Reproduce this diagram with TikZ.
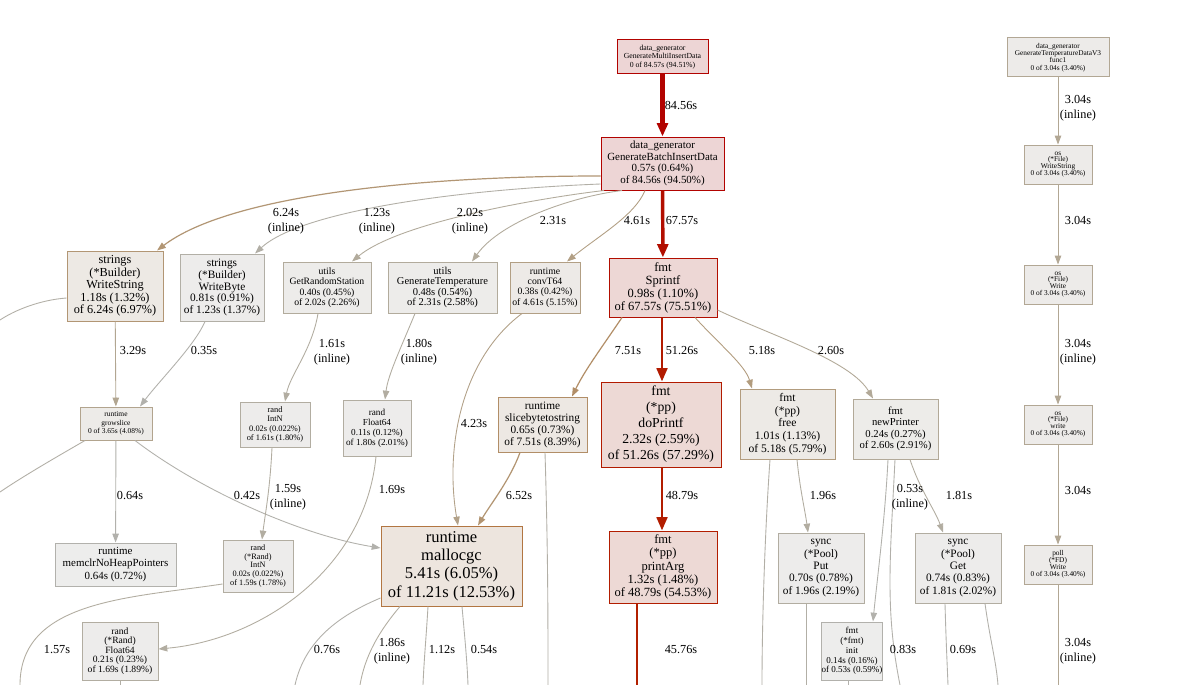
\documentclass[tikz,border=0pt]{standalone}
\usepackage{fontspec}
\setmainfont{Liberation Serif}
\usetikzlibrary{arrows.meta}
% node borders / fills
\definecolor{bA}{HTML}{B20300}\definecolor{fA}{HTML}{EDD5D5}
\definecolor{bB}{HTML}{B20E00}\definecolor{fB}{HTML}{EDD7D5}
\definecolor{bC}{HTML}{B21B00}\definecolor{fC}{HTML}{EDD9D5}
\definecolor{bD}{HTML}{B21D00}
\definecolor{bMal}{HTML}{B27642}\definecolor{fMal}{HTML}{EDE5DE}
\definecolor{bSbs}{HTML}{B28E67}\definecolor{fSbs}{HTML}{EDE8E3}
\definecolor{bSws}{HTML}{B29674}\definecolor{fSws}{HTML}{EDE9E4}
\definecolor{bFr}{HTML}{B29C7E}\definecolor{fFr}{HTML}{EDEAE6}
\definecolor{bCv}{HTML}{B29F84}\definecolor{fCv}{HTML}{EDEAE7}
\definecolor{bGs}{HTML}{B2A48E}\definecolor{fGs}{HTML}{EDEBE8}
\definecolor{bOs}{HTML}{B2A794}\definecolor{fOs}{HTML}{EDEBE9}
\definecolor{bNp}{HTML}{B2A998}\definecolor{fNp}{HTML}{EDECE9}
\definecolor{bUt}{HTML}{B2AB9C}\definecolor{fUt}{HTML}{EDECEA}
\definecolor{bSy}{HTML}{B2ADA1}\definecolor{fSy}{HTML}{EDECEB}
\definecolor{bWb}{HTML}{B2AFA6}
\definecolor{bMe}{HTML}{B2B1AC}\definecolor{fMe}{HTML}{EDEDEC}
% edges
\definecolor{eR0}{HTML}{B20300}\definecolor{eR1}{HTML}{B20E00}
\definecolor{eR2}{HTML}{B21B00}\definecolor{eR3}{HTML}{B21D00}
\definecolor{eR4}{HTML}{B22000}
\definecolor{e751}{HTML}{B28E67}\definecolor{e652}{HTML}{B29471}
\definecolor{e624}{HTML}{B29674}\definecolor{e518}{HTML}{B29C7E}
\definecolor{e461}{HTML}{B29F84}\definecolor{e423}{HTML}{B2A188}
\definecolor{e329}{HTML}{B2A691}\definecolor{e304}{HTML}{B2A794}
\definecolor{e260}{HTML}{B2A998}\definecolor{e2}{HTML}{B2AB9C}
\definecolor{e19}{HTML}{B2ADA1}\definecolor{e12}{HTML}{B2AFA6}
\definecolor{e08}{HTML}{B2B0AA}\definecolor{e05}{HTML}{B2B1AC}
\tikzset{
  gn/.style={draw, rectangle, align=center, inner sep=0.5pt, line width=0.75pt},
  bx/.style n args={4}{minimum width=#1*0.75pt, minimum height=#2*0.75pt,
     font=\fontsize{#3}{#4}\selectfont},
  ed/.style={draw=#1, line width=0.66pt, -{Triangle[length=6.6pt,width=4.8pt]}},
  eo/.style={draw=#1, line width=0.66pt},
  hot/.style={draw=#1, -{Triangle[length=10pt,width=8pt]}},
  lb/.style={font=\fontsize{9.2}{11.2}\selectfont, align=center, inner sep=0pt},
}
\begin{document}
\begin{tikzpicture}[x=0.75pt,y=-0.75pt]
\useasboundingbox (0,0) rectangle (1200,685);
\fill[white] (0,0) rectangle (1200,685);

% ---------------- nodes ----------------
\node[gn, draw=bA, fill=fA, bx={91}{34}{5.8}{6.4}] (gmid) at (662.5,57)
  {data\_generator\\GenerateMultiInsertData\\0 of 84.57s (94.51\%)};
\node[gn, draw=bA, fill=fA, bx={123}{53}{8.2}{8.6}] (gbid) at (662.5,163.5)
  {data\_generator\\GenerateBatchInsertData\\0.57s (0.64\%)\\of 84.56s (94.50\%)};
\node[gn, draw=bOs, fill=fOs, bx={102}{39}{5.5}{5.5}] (v3) at (1058,57.5)
  {data\_generator\\GenerateTemperatureDataV3\\func1\\0 of 3.04s (3.40\%)};
\node[gn, draw=bOs, fill=fOs, bx={68}{39}{5.5}{5.2}] (osws) at (1058,164.5)
  {os\\(*File)\\WriteString\\0 of 3.04s (3.40\%)};
\node[gn, draw=bOs, fill=fOs, bx={68}{39}{5.5}{5.2}] (osW) at (1058,284.5)
  {os\\(*File)\\Write\\0 of 3.04s (3.40\%)};
\node[gn, draw=bOs, fill=fOs, bx={68}{39}{5.5}{5.2}] (osw) at (1058,424.5)
  {os\\(*File)\\write\\0 of 3.04s (3.40\%)};
\node[gn, draw=bOs, fill=fOs, bx={68}{39}{5.5}{5.2}] (poll) at (1058,564.5)
  {poll\\(*FD)\\Write\\0 of 3.04s (3.40\%)};

\node[gn, draw=bSws, fill=fSws, bx={96}{70}{9.2}{9.4}] (sbws) at (115,286)
  {strings\\(*Builder)\\WriteString\\1.18s (1.32\%)\\of 6.24s (6.97\%)};
\node[gn, draw=bWb, fill=fSy, bx={84}{67}{8.5}{8.9}] (sbwb) at (222,287.5)
  {strings\\(*Builder)\\WriteByte\\0.81s (0.91\%)\\of 1.23s (1.37\%)};
\node[gn, draw=bUt, fill=fUt, bx={88}{51}{7.3}{7.8}] (grs) at (327,287.5)
  {utils\\GetRandomStation\\0.40s (0.45\%)\\of 2.02s (2.26\%)};
\node[gn, draw=bUt, fill=fUt, bx={109}{51}{7.9}{7.8}] (gt) at (442.5,287.5)
  {utils\\GenerateTemperature\\0.48s (0.54\%)\\of 2.31s (2.58\%)};
\node[gn, draw=bCv, fill=fCv, bx={70}{51}{7.3}{7.8}] (conv) at (545,287.5)
  {runtime\\convT64\\0.38s (0.42\%)\\of 4.61s (5.15\%)};
\node[gn, draw=bB, fill=fB, bx={108}{59}{9.4}{9.75}] (spf) at (663,287.5)
  {fmt\\Sprintf\\0.98s (1.10\%)\\of 67.57s (75.51\%)};

\node[gn, draw=bGs, fill=fGs, bx={72}{33}{5.6}{6.4}] (gs) at (116,423.5)
  {runtime\\growslice\\0 of 3.65s (4.08\%)};
\node[gn, draw=bSy, fill=fSy, bx={70}{45}{6.3}{7.2}] (rin) at (275,424.5)
  {rand\\IntN\\0.02s (0.022\%)\\of 1.61s (1.80\%)};
\node[gn, draw=bSy, fill=fSy, bx={68}{56}{6.9}{7.6}] (rf) at (377,428)
  {rand\\Float64\\0.11s (0.12\%)\\of 1.80s (2.01\%)};
\node[gn, draw=bSbs, fill=fSbs, bx={89}{55}{8.5}{9.0}] (sbs) at (542.5,424.5)
  {runtime\\slicebytetostring\\0.65s (0.73\%)\\of 7.51s (8.39\%)};
\node[gn, draw=bC, fill=fC, bx={120}{85}{10.3}{12.0}] (dop) at (661,424.5)
  {fmt\\(*pp)\\doPrintf\\2.32s (2.59\%)\\of 51.26s (57.29\%)};
\node[gn, draw=bFr, fill=fFr, bx={95}{70}{8.7}{9.6}] (free) at (787.5,424)
  {fmt\\(*pp)\\free\\1.01s (1.13\%)\\of 5.18s (5.79\%)};
\node[gn, draw=bNp, fill=fNp, bx={85}{60}{8.0}{8.6}] (np) at (895.5,429)
  {fmt\\newPrinter\\0.24s (0.27\%)\\of 2.60s (2.91\%)};

\node[gn, draw=bMe, fill=fMe, bx={121}{43}{8.2}{9.2}] (mem) at (115.5,564.5)
  {runtime\\memclrNoHeapPointers\\0.64s (0.72\%)};
\node[gn, draw=bSy, fill=fSy, bx={70}{52}{6.2}{6.6}] (rri) at (258,566)
  {rand\\(*Rand)\\IntN\\0.02s (0.022\%)\\of 1.59s (1.78\%)};
\node[gn, draw=bMal, fill=fMal, bx={141}{80}{12.4}{13.8}] (mal) at (451.5,566)
  {runtime\\mallocgc\\5.41s (6.05\%)\\of 11.21s (12.53\%)};
\node[gn, draw=bD, fill=fC, bx={108}{72}{9.4}{10.0}] (pa) at (663,567)
  {fmt\\(*pp)\\printArg\\1.32s (1.48\%)\\of 48.79s (54.53\%)};
\node[gn, draw=bSy, fill=fSy, bx={86}{70}{8.5}{9.3}] (sput) at (821,568)
  {sync\\(*Pool)\\Put\\0.70s (0.78\%)\\of 1.96s (2.19\%)};
\node[gn, draw=bSy, fill=fSy, bx={86}{70}{8.5}{9.3}] (sget) at (958,568)
  {sync\\(*Pool)\\Get\\0.74s (0.83\%)\\of 1.81s (2.02\%)};
\node[gn, draw=bSy, fill=fSy, bx={76}{58}{7.2}{7.2}] (rrf) at (120,651)
  {rand\\(*Rand)\\Float64\\0.21s (0.23\%)\\of 1.69s (1.89\%)};
\node[gn, draw=bMe, fill=fMe, bx={60}{58}{6.8}{7.4}, inner sep=0pt] (fi) at (852,651)
  {fmt\\(*fmt)\\init\\0.14s (0.16\%)\\of 0.53s (0.59\%)};

% ---------------- off-picture ends ----------------
\coordinate (oL1) at (0,320);
\coordinate (oL2) at (0,492);
\coordinate (oB1) at (20,685);
\coordinate (oB2) at (120,685);
\coordinate (oB3) at (295,685);
\coordinate (oB4) at (360,685);
\coordinate (oB5) at (423,685);
\coordinate (oB6) at (468,685);
\coordinate (oB7) at (548,685);
\coordinate (oB8) at (637,685);
\coordinate (oB9) at (762,685);
\coordinate (oB10) at (806,685);
\coordinate (oB11) at (848,685);
\coordinate (oB12) at (900,685);
\coordinate (oB13) at (948,685);
\coordinate (oB14) at (998,685);
\coordinate (oB15) at (1058,685);

% ---------------- hot edges ----------------
\draw[hot=eR0, line width=3.3pt] (gmid) -- (gbid);
\draw[hot=eR1, line width=2.6pt] (gbid) -- (spf);
\draw[hot=eR2, line width=2pt] (spf.south -| 662,0) -- (dop.north -| 662,0);
\draw[hot=eR3, line width=2pt] (dop.south -| 662,0) -- (pa.north -| 662,0);
\draw[draw=eR4, line width=2pt] (pa.south -| oB8) -- (oB8);

% ---------------- other edges ----------------
\draw[ed=e624, line width=0.9pt] (gbid.west |- 0,176) .. controls (420,176) and (230,195) .. (sbws.north -| 157,0);
\draw[ed=e12] (gbid.west |- 0,184) .. controls (450,190) and (300,212) .. (sbwb.north -| 255,0);
\draw[ed=e2] (gbid.south -| 604,0) .. controls (540,198) and (400,222) .. (grs.north -| 352,0);
\draw[ed=e2] (gbid.south -| 622,0) .. controls (570,197) and (500,222) .. (gt.north -| 472,0);
\draw[ed=e461] (gbid.south -| 645,0) .. controls (635,215) and (600,235) .. (conv.north -| 567,0);

\draw[ed=e751, line width=0.9pt] (spf.south -| 622,0) .. controls (600,350) and (585,370) .. (sbs.north -| 572,0);
\draw[ed=e518] (spf.south -| 695,0) .. controls (720,345) and (745,365) .. (free.north -| 752,0);
\draw[ed=e260] (spf.east |- 0,310) .. controls (770,335) and (850,360) .. (np.north -| 873,0);

\draw[ed=e329] (sbws) -- (gs);
\draw[ed=e05] (sbwb.south -| 205,0) .. controls (195,345) and (160,380) .. (gs.north -| 140,0);
\draw[ed=e19] (grs.south -| 318,0) .. controls (312,350) and (290,375) .. (rin.north -| 285,0);
\draw[ed=e19] (gt.south -| 415,0) .. controls (400,350) and (388,375) .. (rf.north -| 385,0);
\draw[ed=e423] (conv.south -| 522,0) .. controls (460,360) and (445,450) .. (mal.north -| 458,0);
\draw[ed=e652, line width=0.9pt] (sbs.south -| 520,0) .. controls (510,480) and (490,505) .. (mal.north -| 478,0);
\draw[eo=e12] (sbs.south -| 545,0) .. controls (548,550) and (548,620) .. (oB7);

\draw[ed=e19] (free.south -| 797,0) .. controls (800,490) and (805,510) .. (sput.north -| 808,0);
\draw[eo=e12] (free.south -| 770,0) .. controls (765,530) and (762,620) .. (oB9);
\draw[ed=e19] (np.south -| 910,0) .. controls (920,490) and (935,510) .. (sget.north -| 943,0);
\draw[ed=e05] (np.south -| 888,0) .. controls (885,520) and (877,580) .. (fi.north -| 873,0);
\draw[eo=e08] (np.south -| 895,0) .. controls (890,560) and (885,610) .. (oB12);

\draw[ed=e05] (gs) -- (mem);
\draw[ed=e05] (gs.south -| 135,0) .. controls (200,490) and (300,535) .. (mal.west |- 0,548);
\draw[eo=e12] (gs.south -| 85,0) .. controls (60,455) and (25,475) .. (oL2);
\draw[eo=e12] (sbws.west |- 0,298) .. controls (40,300) and (15,310) .. (oL1);
\draw[ed=e19] (rin.south -| 272,0) .. controls (270,490) and (265,515) .. (rri.north -| 262,0);
\draw[ed=e19] (rf.south -| 376,0) .. controls (365,570) and (260,640) .. (rrf.east |- 0,649);
\draw[eo=e19] (rri.west |- 0,584) .. controls (130,598) and (20,600) .. (oB1);
\draw[eo=e12] (rrf.south) -- (oB2);

\draw[eo=e08] (mal.west |- 0,598) .. controls (340,615) and (305,640) .. (oB3);
\draw[eo=e19] (mal.south -| 400,0) .. controls (380,630) and (365,655) .. (oB4);
\draw[eo=e12] (mal.south -| 428,0) .. controls (426,640) and (424,660) .. (oB5);
\draw[eo=e05] (mal.south -| 462,0) .. controls (465,640) and (467,660) .. (oB6);

\draw[eo=e12] (sput.south -| oB10) -- (oB10);
\draw[eo=e05] (fi.south -| oB11) -- (oB11);
\draw[eo=e05] (sget.south -| 945,0) .. controls (946,640) and (947,660) .. (oB13);
\draw[eo=e08] (sget.south -| 985,0) .. controls (990,640) and (996,660) .. (oB14);

\draw[ed=e304] (v3) -- (osws);
\draw[ed=e304] (osws) -- (osW);
\draw[ed=e304] (osW) -- (osw);
\draw[ed=e304] (osw) -- (poll);
\draw[eo=e304] (poll) -- (oB15);

% ---------------- edge labels ----------------
\node[lb] (l01) at (681,106) {84.56s};
\node[lb] (l02) at (682,221) {67.57s};
\node[lb] (l03) at (286,221) {6.24s\\(inline)};
\node[lb] (l04) at (377,221) {1.23s\\(inline)};
\node[lb] (l05) at (470,221) {2.02s\\(inline)};
\node[lb] (l06) at (553,221) {2.31s};
\node[lb] (l07) at (637,221) {4.61s};
\node[lb] (l08) at (628,351) {7.51s};
\node[lb] (l09) at (682,351) {51.26s};
\node[lb] (l10) at (762,351) {5.18s};
\node[lb] (l11) at (831,351) {2.60s};
\node[lb] (l12) at (133,351) {3.29s};
\node[lb] (l13) at (204,351) {0.35s};
\node[lb] (l14) at (332,352) {1.61s\\(inline)};
\node[lb] (l15) at (419,352) {1.80s\\(inline)};
\node[lb] (l16) at (474,424) {4.23s};
\node[lb] (l17) at (130,496) {0.64s};
\node[lb] (l18) at (247,496) {0.42s};
\node[lb] (l19) at (288,497) {1.59s\\(inline)};
\node[lb] (l20) at (392,490) {1.69s};
\node[lb] (l21) at (519,496) {6.52s};
\node[lb] (l22) at (682,496) {48.79s};
\node[lb] (l23) at (823,496) {1.96s};
\node[lb] (l24) at (910,497) {0.53s\\(inline)};
\node[lb] (l25) at (959,496) {1.81s};
\node[lb] (l26) at (57,650) {1.57s};
\node[lb] (l27) at (327,650) {0.76s};
\node[lb] (l28) at (392,651) {1.86s\\(inline)};
\node[lb] (l29) at (442,650) {1.12s};
\node[lb] (l30) at (484,650) {0.54s};
\node[lb] (l31) at (681,650) {45.76s};
\node[lb] (l32) at (903,650) {0.83s};
\node[lb] (l33) at (963,650) {0.69s};
\node[lb] (l34) at (1078,108) {3.04s\\(inline)};
\node[lb] (l35) at (1078,221) {3.04s};
\node[lb] (l36) at (1078,352) {3.04s\\(inline)};
\node[lb] (l37) at (1078,491) {3.04s};
\node[lb] (l38) at (1078,651) {3.04s\\(inline)};
\end{tikzpicture}
\end{document}
